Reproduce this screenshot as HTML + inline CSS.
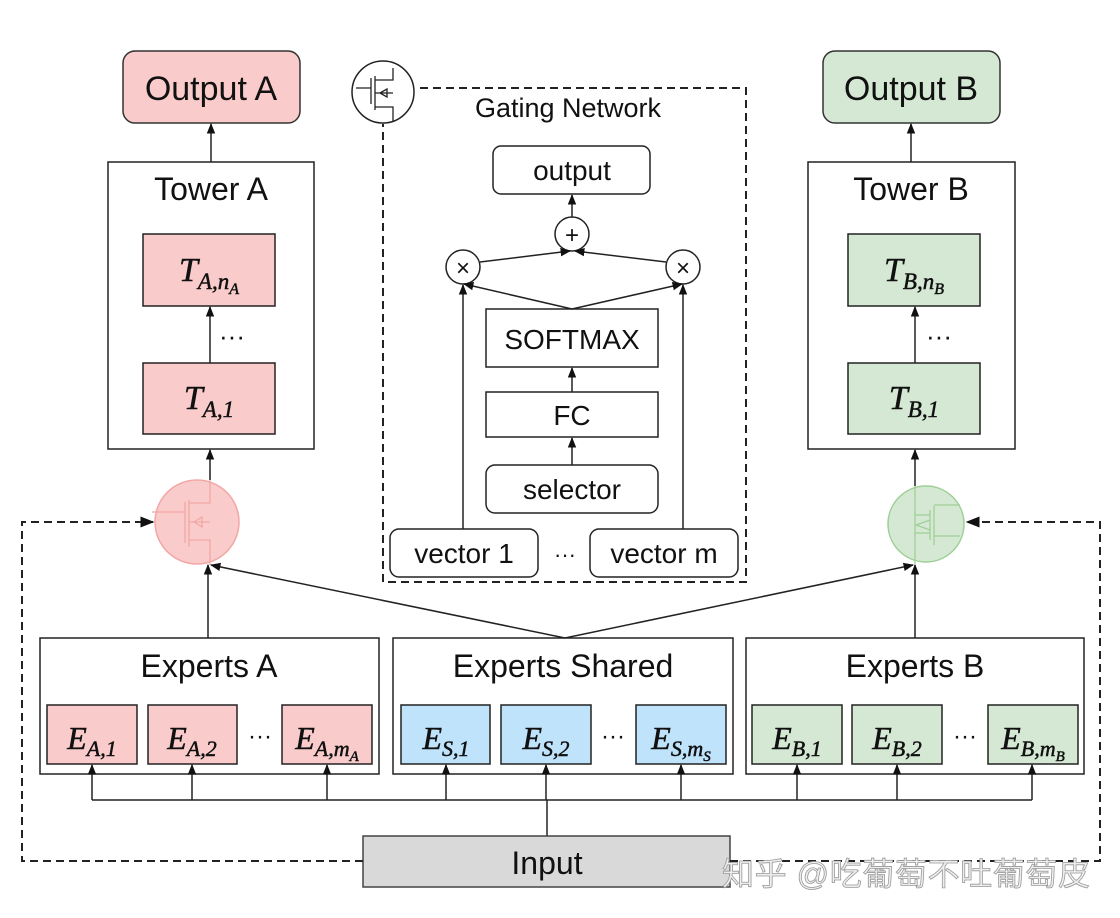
<!DOCTYPE html>
<html><head><meta charset="utf-8"><style>
html,body{margin:0;padding:0;background:#fff;width:1120px;height:918px;overflow:hidden}
svg{display:block}
.t{font-family:"Liberation Sans","DejaVu Sans",sans-serif;fill:#111;text-anchor:middle}
.m{font-family:"Liberation Serif",serif;font-style:italic;fill:#111;text-anchor:middle;stroke:#111;stroke-width:0.5}
</style></head><body>
<svg width="1120" height="918" viewBox="0 0 1120 918" xmlns="http://www.w3.org/2000/svg">
<defs>
<marker id="a" viewBox="0 0 10 10" refX="9" refY="5" markerWidth="7" markerHeight="7" orient="auto"><path d="M0,1 L10,5 L0,9 z" fill="#111"/></marker>
</defs>
<g stroke="#222" stroke-width="1.5" fill="none">
<rect x="123" y="51" width="177" height="72" rx="12" fill="#f9cccb" stroke="#333"/>
<rect x="823" y="51" width="177" height="72" rx="12" fill="#d5e8d4" stroke="#333"/>
<rect x="108" y="162" width="206" height="287" fill="#fff"/>
<rect x="808" y="162" width="207" height="287" fill="#fff"/>
<rect x="143" y="234" width="132" height="72" fill="#f9cccb"/>
<rect x="143" y="363" width="132" height="71" fill="#f9cccb"/>
<rect x="848" y="234" width="132" height="72" fill="#d5e8d4"/>
<rect x="848" y="363" width="132" height="71" fill="#d5e8d4"/>
<line x1="211" y1="162" x2="211" y2="124" marker-end="url(#a)"/>
<line x1="911" y1="162" x2="911" y2="124" marker-end="url(#a)"/>
<line x1="210" y1="363" x2="210" y2="307" marker-end="url(#a)"/>
<line x1="915" y1="363" x2="915" y2="307" marker-end="url(#a)"/>
<path d="M420,88 L746,88 L746,582 L383,582 L383,124" stroke-dasharray="8,5" stroke-width="2"/>
<rect x="493" y="146" width="157" height="48" rx="8"/>
<circle cx="572" cy="234" r="17"/>
<circle cx="463" cy="267" r="17"/>
<circle cx="683" cy="267" r="17"/>
<rect x="486" y="309" width="172" height="58"/>
<rect x="486" y="392" width="172" height="45"/>
<rect x="486" y="465" width="172" height="48" rx="9"/>
<rect x="390" y="529" width="148" height="48" rx="9"/>
<rect x="590" y="529" width="148" height="48" rx="9"/>
<line x1="572" y1="217" x2="572" y2="195" marker-end="url(#a)"/>
<line x1="480" y1="262" x2="570" y2="251" marker-end="url(#a)"/>
<line x1="666" y1="262" x2="575" y2="251" marker-end="url(#a)"/>
<line x1="572" y1="309" x2="464" y2="284" marker-end="url(#a)"/>
<line x1="572" y1="309" x2="682" y2="284" marker-end="url(#a)"/>
<line x1="463" y1="529" x2="463" y2="285" marker-end="url(#a)"/>
<line x1="683" y1="529" x2="683" y2="285" marker-end="url(#a)"/>
<line x1="572" y1="392" x2="572" y2="368" marker-end="url(#a)"/>
<line x1="572" y1="465" x2="572" y2="438" marker-end="url(#a)"/>
<circle cx="383" cy="92" r="31" fill="#fff"/>
<path d="M356,88 H371 M371,78 V104 M375,76 V110 M375,80 H393 V68 M375,107 H393 V122 M375,93 H393 M380,93 L387,89 V97 Z" stroke-width="1.3"/>
<circle cx="197" cy="522" r="42" fill="#f9cccb" stroke="#f2a7a6"/>
<path d="M152,512 H185 M185,502 V543 M189,500 V547 M189,503 H210 V470 M189,540 H210 V565 M189,522 H210 M194,522 L202,517 V527 Z" stroke="#f2a7a6" stroke-width="1.3"/>
<circle cx="926" cy="524" r="38" fill="#d5e8d4" stroke="#9fcf97"/>
<path d="M915,486 V564 M915,505 V515 H930 M915,541 V533 H930 M934,506 V545 M930,510 V540 M934,505 H960 M934,536 H960 M916,525 L930,520 V530 Z" stroke="#9fcf97" stroke-width="1.3"/>
<line x1="210" y1="480" x2="210" y2="450" marker-end="url(#a)"/>
<line x1="915" y1="486" x2="915" y2="450" marker-end="url(#a)"/>
<rect x="40" y="638" width="339" height="136"/>
<rect x="393" y="638" width="340" height="136"/>
<rect x="746" y="638" width="338" height="136"/>
<g fill="#f9cccb"><rect x="47" y="705" width="90" height="59"/><rect x="148" y="705" width="89" height="59"/><rect x="282" y="705" width="90" height="59"/></g>
<g fill="#bfe3fb"><rect x="401" y="705" width="89" height="59"/><rect x="501" y="705" width="90" height="59"/><rect x="636" y="705" width="90" height="59"/></g>
<g fill="#d5e8d4"><rect x="752" y="705" width="90" height="59"/><rect x="852" y="705" width="90" height="59"/><rect x="988" y="705" width="90" height="59"/></g>
<line x1="208" y1="638" x2="208" y2="565" marker-end="url(#a)"/>
<line x1="915" y1="638" x2="915" y2="565" marker-end="url(#a)"/>
<line x1="565" y1="638" x2="211" y2="565" marker-end="url(#a)"/>
<line x1="565" y1="638" x2="913" y2="565" marker-end="url(#a)"/>
<line x1="92" y1="800" x2="1032" y2="800"/>
<g marker-end="url(#a)">
<line x1="92" y1="800" x2="92" y2="765"/><line x1="192" y1="800" x2="192" y2="765"/><line x1="327" y1="800" x2="327" y2="765"/>
<line x1="446" y1="800" x2="446" y2="765"/><line x1="546" y1="800" x2="546" y2="765"/><line x1="681" y1="800" x2="681" y2="765"/>
<line x1="797" y1="800" x2="797" y2="765"/><line x1="897" y1="800" x2="897" y2="765"/><line x1="1032" y1="800" x2="1032" y2="765"/>
</g>
<line x1="547" y1="836" x2="547" y2="800"/>
<rect x="363" y="836" width="367" height="51" fill="#d9d9d9" stroke="#444"/>
<path d="M363,861 H22 V522 H153" stroke-dasharray="8,5" stroke-width="2" marker-end="url(#a)"/>
<path d="M730,861 H1100 V522 H967" stroke-dasharray="8,5" stroke-width="2" marker-end="url(#a)"/>
</g>
<text class="t" x="211" y="100" font-size="34">Output A</text>
<text class="t" x="911" y="100" font-size="34">Output B</text>
<text class="t" x="211" y="200" font-size="32">Tower A</text>
<text class="t" x="911" y="200" font-size="32">Tower B</text>
<text class="t" x="232" y="345" font-size="26">···</text>
<text class="t" x="939" y="345" font-size="26">···</text>
<text class="m" x="209" y="281" font-size="34">T<tspan font-size="23" dy="8">A,n</tspan><tspan font-size="16" dy="5">A</tspan></text>
<text class="m" x="209" y="409" font-size="34">T<tspan font-size="23" dy="8">A,1</tspan></text>
<text class="m" x="914" y="281" font-size="34">T<tspan font-size="23" dy="8">B,n</tspan><tspan font-size="16" dy="5">B</tspan></text>
<text class="m" x="914" y="409" font-size="34">T<tspan font-size="23" dy="8">B,1</tspan></text>
<text class="t" x="568" y="117" font-size="27">Gating Network</text>
<text class="t" x="572" y="180" font-size="28">output</text>
<text class="t" x="572" y="243" font-size="24">+</text>
<text class="t" x="463" y="276" font-size="24">×</text>
<text class="t" x="683" y="276" font-size="24">×</text>
<text class="t" x="572" y="349" font-size="28">SOFTMAX</text>
<text class="t" x="572" y="425" font-size="28">FC</text>
<text class="t" x="572" y="499" font-size="28">selector</text>
<text class="t" x="464" y="563" font-size="28">vector 1</text>
<text class="t" x="664" y="563" font-size="28">vector m</text>
<text class="t" x="565" y="562" font-size="22">···</text>
<text class="t" x="209" y="677" font-size="32">Experts A</text>
<text class="t" x="563" y="677" font-size="32">Experts Shared</text>
<text class="t" x="915" y="677" font-size="32">Experts B</text>
<g font-size="32">
<text class="m" x="92" y="749">E<tspan font-size="22" dy="7">A,1</tspan></text>
<text class="m" x="192" y="749">E<tspan font-size="22" dy="7">A,2</tspan></text>
<text class="m" x="327" y="749">E<tspan font-size="22" dy="7">A,m</tspan><tspan font-size="15" dy="5">A</tspan></text>
<text class="m" x="446" y="749">E<tspan font-size="22" dy="7">S,1</tspan></text>
<text class="m" x="546" y="749">E<tspan font-size="22" dy="7">S,2</tspan></text>
<text class="m" x="681" y="749">E<tspan font-size="22" dy="7">S,m</tspan><tspan font-size="15" dy="5">S</tspan></text>
<text class="m" x="797" y="749">E<tspan font-size="22" dy="7">B,1</tspan></text>
<text class="m" x="897" y="749">E<tspan font-size="22" dy="7">B,2</tspan></text>
<text class="m" x="1033" y="749">E<tspan font-size="22" dy="7">B,m</tspan><tspan font-size="15" dy="5">B</tspan></text>
</g>
<text class="t" x="260" y="744" font-size="24">···</text>
<text class="t" x="613" y="744" font-size="24">···</text>
<text class="t" x="965" y="744" font-size="24">···</text>
<text class="t" x="547" y="874" font-size="32">Input</text>
<text x="722" y="885" font-size="32" fill="#eee" stroke="#999" stroke-width="0.8" textLength="368" font-family="'Liberation Sans','Noto Sans CJK SC',sans-serif">知乎 @吃葡萄不吐葡萄皮</text>
</svg>
</body></html>
